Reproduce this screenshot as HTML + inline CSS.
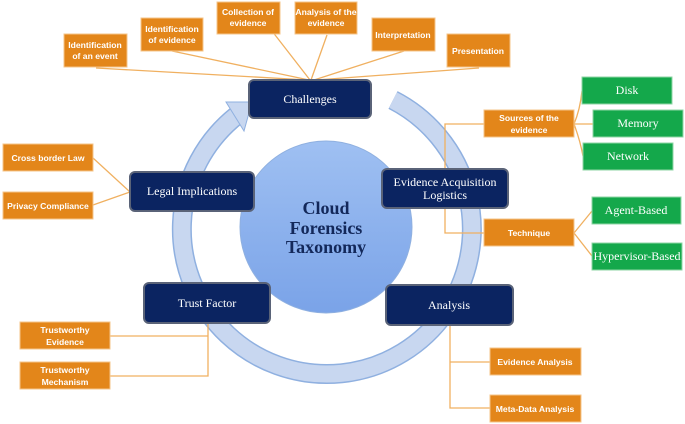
<!DOCTYPE html>
<html><head><meta charset="utf-8"><style>
html,body{margin:0;padding:0;background:#fff;}
svg{display:block}
.d{font-family:"Liberation Serif",serif;font-size:12px;fill:#fff;text-anchor:middle}
.o{font-family:"Liberation Sans",sans-serif;font-size:8.6px;font-weight:bold;fill:#fff;text-anchor:middle}
.g{font-family:"Liberation Serif",serif;font-size:12px;fill:#fff;text-anchor:middle}
</style></head><body>
<svg width="685" height="424" viewBox="0 0 685 424" xmlns="http://www.w3.org/2000/svg">
<defs>
<linearGradient id="cg" x1="0" y1="0" x2="0" y2="1"><stop offset="0" stop-color="#9fc0f2"/><stop offset="1" stop-color="#7aa3e8"/></linearGradient>
</defs>
<path d="M393,100 A145,145 0 1 1 236,116" fill="none" stroke="#8fb0e0" stroke-width="20"/>
<path d="M393,100 A145,145 0 1 1 236,116" fill="none" stroke="#c8d7f0" stroke-width="17"/>
<polygon points="226,102 252,102 244,131" fill="#c8d7f0" stroke="#8fb0e0" stroke-width="1"/>
<circle cx="326" cy="227" r="86" fill="url(#cg)" stroke="#8fb0e0" stroke-width="1"/>
<g font-family="Liberation Serif,serif" font-weight="bold" font-size="18" fill="#13285a" text-anchor="middle">
<text x="326" y="214">Cloud</text><text x="326" y="234">Forensics</text><text x="326" y="253">Taxonomy</text>
</g>
<g stroke="#f0b060" stroke-width="1.3" fill="none">
<line x1="96" y1="68" x2="308" y2="80"/>
<line x1="172" y1="51" x2="309" y2="80"/>
<line x1="265" y1="22" x2="310" y2="80"/>
<line x1="327" y1="35" x2="311" y2="80"/>
<line x1="404" y1="51" x2="314" y2="80"/>
<line x1="479" y1="68" x2="316" y2="80"/>
<polyline points="484,124 445,124 445,233 484,233"/>
<path d="M574,124 Q580,110 582,91"/><line x1="574" y1="124" x2="593" y2="124"/><path d="M574,124 Q580,140 583,156"/>
<line x1="574" y1="233" x2="592" y2="211"/><line x1="574" y1="233" x2="592" y2="256"/>
<line x1="93" y1="158" x2="130" y2="192"/><line x1="93" y1="205" x2="130" y2="192"/>
<polyline points="208,323 208,376 110,376"/><line x1="208" y1="336" x2="110" y2="336"/>
<polyline points="450,325 450,408 490,408"/><line x1="450" y1="362" x2="490" y2="362"/>
</g>
<g fill="#0b2461" stroke="#5a6378" stroke-width="2">
<rect x="249" y="80" width="122" height="38" rx="5"/>
<rect x="130" y="172" width="124" height="39" rx="5"/>
<rect x="144" y="283" width="126" height="40" rx="5"/>
<rect x="382" y="169" width="126" height="39" rx="5"/>
<rect x="386" y="285" width="127" height="40" rx="5"/>
</g>
<text class="d" x="310" y="103">Challenges</text>
<text class="d" x="192" y="195">Legal Implications</text>
<text class="d" x="207" y="307">Trust Factor</text>
<text class="d" x="445" y="186">Evidence Acquisition</text>
<text class="d" x="445" y="199">Logistics</text>
<text class="d" x="449" y="309">Analysis</text>
<g fill="#e3861a" stroke="#f4c48a" stroke-width="1">
<rect x="64" y="34" width="63" height="33"/>
<rect x="141" y="18" width="62" height="33"/>
<rect x="217" y="2" width="63" height="32"/>
<rect x="295" y="2" width="62" height="32"/>
<rect x="372" y="18" width="63" height="33"/>
<rect x="447" y="34" width="63" height="33"/>
<rect x="484" y="110" width="90" height="27"/>
<rect x="484" y="219" width="90" height="27"/>
<rect x="3" y="144" width="90" height="27"/>
<rect x="3" y="192" width="90" height="27"/>
<rect x="20" y="322" width="90" height="27"/>
<rect x="20" y="362" width="90" height="27"/>
<rect x="490" y="348" width="91" height="27"/>
<rect x="490" y="395" width="91" height="27"/>
</g>
<text class="o" x="95" y="48">Identification</text><text class="o" x="95" y="59">of an event</text>
<text class="o" x="172" y="32">Identification</text><text class="o" x="172" y="43">of evidence</text>
<text class="o" x="248" y="15" font-weight="normal">Collection of</text><text class="o" x="248" y="26" font-weight="normal">evidence</text>
<text class="o" x="326" y="15">Analysis of the</text><text class="o" x="326" y="26">evidence</text>
<text class="o" x="403" y="38">Interpretation</text>
<text class="o" x="478" y="54">Presentation</text>
<text class="o" x="529" y="121">Sources of the</text><text class="o" x="529" y="133">evidence</text>
<text class="o" x="529" y="236">Technique</text>
<text class="o" x="48" y="161">Cross border Law</text>
<text class="o" x="48" y="209">Privacy Compliance</text>
<text class="o" x="65" y="333">Trustworthy</text><text class="o" x="65" y="345">Evidence</text>
<text class="o" x="65" y="373">Trustworthy</text><text class="o" x="65" y="385">Mechanism</text>
<text class="o" x="535" y="365">Evidence Analysis</text>
<text class="o" x="535" y="412">Meta-Data Analysis</text>
<g fill="#14a84b" stroke="#8fd6a6" stroke-width="1">
<rect x="582" y="77" width="90" height="27"/>
<rect x="593" y="110" width="90" height="27"/>
<rect x="583" y="143" width="90" height="27"/>
<rect x="592" y="197" width="89" height="27"/>
<rect x="592" y="243" width="90" height="27"/>
</g>
<text class="g" x="627" y="94">Disk</text>
<text class="g" x="638" y="127">Memory</text>
<text class="g" x="628" y="160">Network</text>
<text class="g" x="636" y="214">Agent-Based</text>
<text class="g" x="637" y="260">Hypervisor-Based</text>
</svg>
</body></html>
